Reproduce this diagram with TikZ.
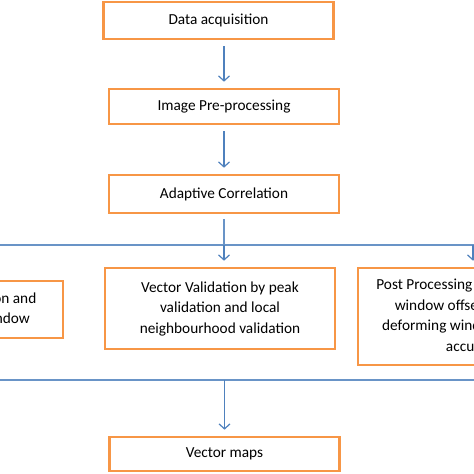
\documentclass[tikz,border=0pt]{standalone}
\usepackage{fontspec}
\setmainfont{Carlito}
\usetikzlibrary{arrows.meta,positioning}
\definecolor{boxorange}{HTML}{F79646}
\definecolor{linkblue}{HTML}{4F81BD}

\begin{document}
\begin{tikzpicture}[x=1pt,y=-1pt,
  stage/.style={draw=boxorange,line width=2.6pt,minimum width=230pt,inner sep=0pt,align=center,font=\fontsize{15.3}{20.5}\selectfont},
  bus/.style={draw=linkblue!85,line width=1.1pt},
  flow/.style={draw=linkblue,line width=1.2pt,-{Straight Barb[length=5pt,width=11pt]},shorten <=6pt,shorten >=6pt}]
\useasboundingbox (0,0) rectangle (474,474);
\clip (0,0) rectangle (474,474);
\node[stage,minimum height=37pt] (acq) at (218.5,20.5) {Data acquisition};
\node[stage,minimum height=35pt] (pre) at (224,106.5) {Image Pre-processing};
\node[stage,minimum height=38pt] (corr) at (224,194) {Adaptive Correlation};
\node[stage,minimum height=81pt] (valid) at (220,308.5) {Vector Validation by peak\\validation and local\\neighbourhood validation};
\node[stage,minimum height=57pt] (multi) at (-52,309.5) {Multi-pass interrogation and\\with adaptive size window};
\node[stage,minimum height=97pt] (post) at (473,316.5) {Post Processing with an integer\\window offset and image\\deforming window for higher\\accuracy};
\node[stage,minimum height=34pt] (maps) at (224.5,454) {Vector maps};
% split and merge lines
\coordinate (splitL) at (-10,245);
\coordinate (splitR) at (484,245);
\coordinate (mergeL) at (-10,380);
\coordinate (mergeR) at (484,380);
\draw[flow] (pre.north |- acq.south) -- (pre.north);
\draw[flow] (pre.south) -- (corr.north);
\draw[bus] ([yshift=-5pt]corr.south) -- (corr.south |- splitL);
\draw[bus] (splitL) -- (splitR);
\draw[flow,shorten <=0pt] (corr.south |- splitL) -- (corr.south |- valid.north);
\draw[flow,shorten <=0pt] (multi.north |- splitL) -- (multi.north);
\draw[flow,shorten <=0pt] (post.north |- splitL) -- (post.north);
\draw[bus] (mergeL) -- (mergeR);
\draw[flow,shorten <=0pt] (maps.north |- mergeL) -- (maps.north);
\end{tikzpicture}
\end{document}
